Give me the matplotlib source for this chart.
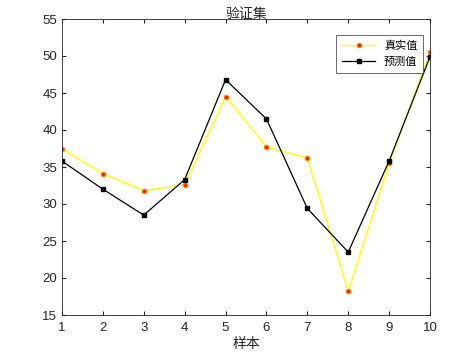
import numpy as np
import matplotlib.pyplot as plt

plt.rcParams['font.family'] = ['Liberation Sans', 'Noto Sans CJK SC', 'DejaVu Sans']

samples = np.arange(1, 11)
true_vals = [37.4, 34.1, 31.8, 32.6, 44.5, 37.7, 36.2, 18.2, 35.5, 50.5]
pred_vals = [35.8, 32.0, 28.5, 33.3, 46.8, 41.5, 29.4, 23.5, 35.8, 49.9]

fig = plt.figure(figsize=(4.74, 3.55), dpi=100)
ax = fig.add_axes([62/474, 1 - 315/355, (430-62)/474, (315-19)/355])

ax.plot(samples, true_vals, '-', color='#ffff00', lw=1.0, marker='o', ms=3,
        mfc='red', mec='#ff8000', label='真实值')
ax.plot(samples, pred_vals, '-', color='black', lw=0.9, marker='s', ms=3.5,
        mfc='black', mec='black', label='预测值')

ax.set_xlim(1, 10)
ax.set_ylim(15, 55)
ax.set_xticks(samples)
ax.set_yticks(range(15, 56, 5))
ax.tick_params(direction='in', length=3, labelsize=9.5, colors='#262626', top=True, right=True,
               labeltop=False, labelright=False)
ax.tick_params(axis='x', pad=5)
for s in ax.spines.values():
    s.set_color('#262626')
    s.set_linewidth(0.6)
ax.set_title('验证集', fontsize=10, color='#262626', pad=1)
ax.set_xlabel('样本', fontsize=10, color='#262626', labelpad=2)
leg = ax.legend(loc='upper right', bbox_to_anchor=(423/474, 1 - 35/355),
                bbox_transform=fig.transFigure, borderaxespad=0,
                fontsize=8, frameon=True, fancybox=False, labelspacing=0.55,
                edgecolor='#262626', handlelength=3, borderpad=0.5)
leg.get_frame().set_linewidth(0.6)

fig.savefig('out.png', dpi=100)
